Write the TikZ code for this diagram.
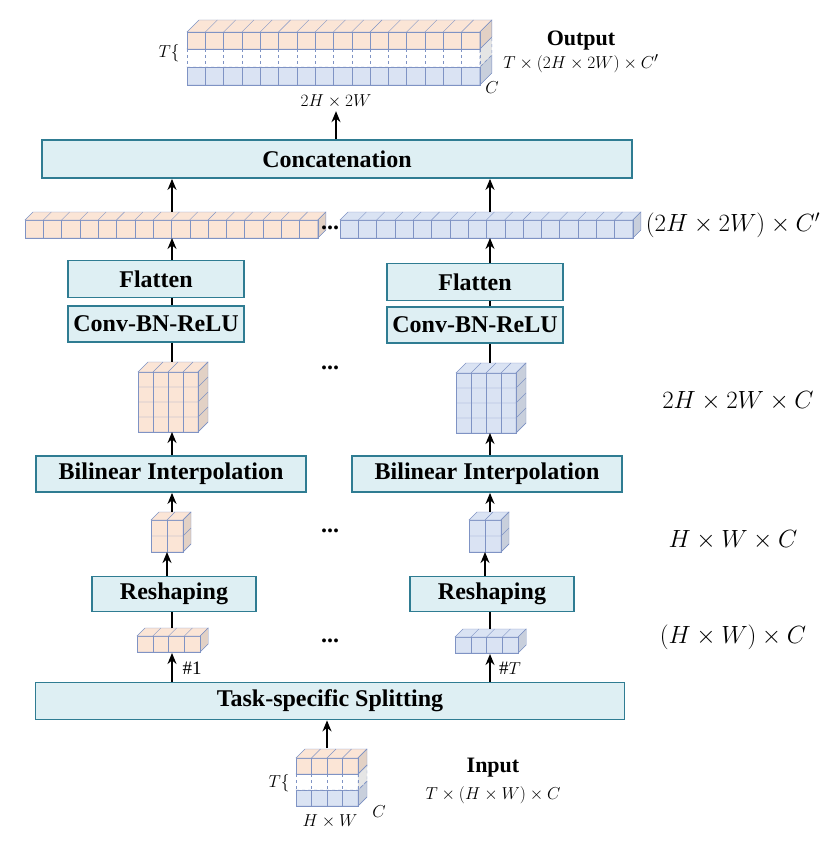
\documentclass[tikz,border=0pt]{standalone}
\usepackage{fontspec}
\setmainfont{Liberation Serif}
\usetikzlibrary{arrows.meta}
\begin{document}
\definecolor{edge}{HTML}{7F93C4}
\definecolor{org}{HTML}{FBE5D6}
\definecolor{blu}{HTML}{DAE3F3}
\definecolor{boxf}{HTML}{DEEFF3}
\definecolor{boxd}{HTML}{2F7C92}
\newcommand\tens[9]{%
 \begin{scope}[shift={(#1,#2)}]
 \pgfmathsetmacro\tW{#3*#5}\pgfmathsetmacro\tH{#4*#6}
 \filldraw[fill=#8,draw=edge,#9] (0,0) rectangle (\tW,\tH);
 \filldraw[fill=#8,draw=edge] (0,0)--(#7,-#7)--(\tW+#7,-#7)--(\tW,0)--cycle;
 \filldraw[fill=#8!80!gray,draw=edge,#9] (\tW,0)--(\tW+#7,-#7)--(\tW+#7,\tH-#7)--(\tW,\tH)--cycle;
 \foreach \i in {1,...,#3}{\pgfmathsetmacro\xx{\i*#5}
   \draw[edge,#9] (\xx,0)--(\xx,\tH); \draw[edge] (\xx,0)--(\xx+#7,-#7);}
 \foreach \j in {1,...,#4}{\pgfmathsetmacro\yy{\j*#6}
   \draw[edge,#9] (0,\yy)--(\tW,\yy)--(\tW+#7,\yy-#7);}
 \end{scope}}
\begin{tikzpicture}[x=1pt,y=-1pt,
 box/.style={draw=boxd,line width=1.8pt,fill=boxf,font=\fontsize{24}{28}\selectfont\bfseries,inner sep=0pt},
 ar/.style={-{Stealth[length=11pt,width=9pt]},line width=1.5pt},
 ln/.style={line width=1.5pt},
 lab/.style={font=\fontsize{25}{30}\selectfont},
 dots/.style={font=\fontsize{24}{28}\selectfont\bfseries},
 sm/.style={font=\fontsize{19}{22}\selectfont}]
\useasboundingbox (0,0) rectangle (831,843);
% output tensor
\tens{187}{67}{16}{1}{18.3}{18}{12}{blu}{}
\tens{187}{49}{16}{1}{18.3}{18}{12}{white}{dashed}
\tens{187}{32}{16}{1}{18.3}{17}{12}{org}{}
\node[sm,anchor=east] (tO) at (183,53) {$T\Big\{$};
\node[sm] (cO) at (492,88) {$C$};
\node[sm] (hw2) at (336,101) {$2H\times2W$};
\node[font=\fontsize{22}{26}\selectfont\bfseries] (out) at (581,41) {Output};
\node[sm] (outf) at (581,64) {$T\times(2H\times2W)\times C'$};
% concat
\node[box,minimum width=590,minimum height=38] (cat) at (337,159) {Concatenation};
\draw[ar] (cat.north -| hw2) -- (hw2.south);
% flat rows
\tens{25}{220}{16}{1}{18.3}{18}{8}{org}{}
\tens{340}{220}{16}{1}{18.3}{18}{8}{blu}{}
\node[dots] (d0) at (330,228) {...};
\node[lab] (l0) at (733,225) {$(2H\times2W)\times C'$};
\coordinate (r1t) at (172,212); \coordinate (r2t) at (490,212);
\coordinate (r1b) at (172,238); \coordinate (r2b) at (490,238);
\draw[ar] (r1t) -- (r1t |- cat.south);
\draw[ar] (r2t) -- (r2t |- cat.south);
% flatten / conv
\node[box,minimum width=176,minimum height=37] (f1) at (156,279) {Flatten};
\node[box,minimum width=176,minimum height=37] (f2) at (475,282) {Flatten};
\node[box,minimum width=176,minimum height=36] (c1) at (156,324) {Conv-BN-ReLU};
\node[box,minimum width=176,minimum height=36] (c2) at (475,325) {Conv-BN-ReLU};
\draw[ar] (f1.north -| r1b) -- (r1b);
\draw[ar] (f2.north -| r2b) -- (r2b);
\draw[ln] (c1.north -| r1b) -- (f1.south -| r1b);
\draw[ln] (c2.north -| r2b) -- (f2.south -| r2b);
% big cubes
\tens{138}{372}{4}{4}{15}{15}{10}{org}{}
\tens{456}{373}{4}{4}{15}{15}{10}{blu}{}
\coordinate (b1t) at (172,362); \coordinate (b2t) at (490,363);
\coordinate (b1b) at (172,432); \coordinate (b2b) at (490,433);
\draw[ln] (c1.south -| b1t) -- (b1t);
\draw[ln] (c2.south -| b2t) -- (b2t);
\node[dots] (d1) at (330,368) {...};
\node[lab] (l1) at (738,401) {$2H\times2W\times C$};
% bilinear
\node[box,minimum width=270,minimum height=36] (bi1) at (171,474) {Bilinear Interpolation};
\node[box,minimum width=270,minimum height=36] (bi2) at (487,474) {Bilinear Interpolation};
\draw[ar] (bi1.north -| b1b) -- (b1b);
\draw[ar] (bi2.north -| b2b) -- (b2b);
% small cubes
\tens{151}{520}{2}{2}{16}{16}{8}{org}{}
\tens{469}{520}{2}{2}{16}{16}{8}{blu}{}
\coordinate (s1t) at (172,512); \coordinate (s2t) at (490,512);
\coordinate (s1b) at (167,552); \coordinate (s2b) at (485,552);
\draw[ar] (s1t) -- (s1t |- bi1.south);
\draw[ar] (s2t) -- (s2t |- bi2.south);
\node[dots] (d2) at (330,531) {...};
\node[lab] (l2) at (733,540) {$H\times W\times C$};
% reshaping
\node[box,minimum width=164,minimum height=35] (re1) at (174,594) {Reshaping};
\node[box,minimum width=164,minimum height=35] (re2) at (492,594) {Reshaping};
\draw[ar] (re1.north -| s1b) -- (s1b);
\draw[ar] (re2.north -| s2b) -- (s2b);
% small rows
\tens{137}{636}{4}{1}{15.8}{16}{8}{org}{}
\tens{455}{637}{4}{1}{15.8}{16}{8}{blu}{}
\coordinate (q1t) at (172,628); \coordinate (q2t) at (490,629);
\coordinate (q1b) at (172,653); \coordinate (q2b) at (490,654);
\draw[ln] (q1t) -- (q1t |- re1.south);
\draw[ln] (q2t) -- (q2t |- re2.south);
\node[dots] (d3) at (330,641) {...};
\node[lab] (l3) at (733,637) {$(H\times W)\times C$};
% splitting
\node[box,minimum width=589,minimum height=37] (sp) at (330,701) {Task-specific Splitting};
\draw[ar] (sp.north -| q1b) -- (q1b);
\draw[ar] (sp.north -| q2b) -- (q2b);
\node[sm] (n1) at (192,668) {\#1};
\node[sm] (nT) at (510,668) {\#$T$};
% input
\tens{296}{790}{4}{1}{15.5}{16}{9}{blu}{}
\tens{296}{774}{4}{1}{15.5}{16}{9}{white}{dashed}
\tens{296}{758}{4}{1}{15.5}{16}{9}{org}{}
\coordinate (inT) at (327,748);
\draw[ar] (inT) -- (inT |- sp.south);
\node[sm,anchor=east] (tI) at (293,783) {$T\Big\{$};
\node[sm] (hwI) at (330,821) {$H\times W$};
\node[sm] (cI) at (379,812) {$C$};
\node[font=\fontsize{22}{26}\selectfont\bfseries] (inp) at (493,768) {Input};
\node[sm] (inf) at (493,795) {$T\times(H\times W)\times C$};
\end{tikzpicture}
\end{document}
